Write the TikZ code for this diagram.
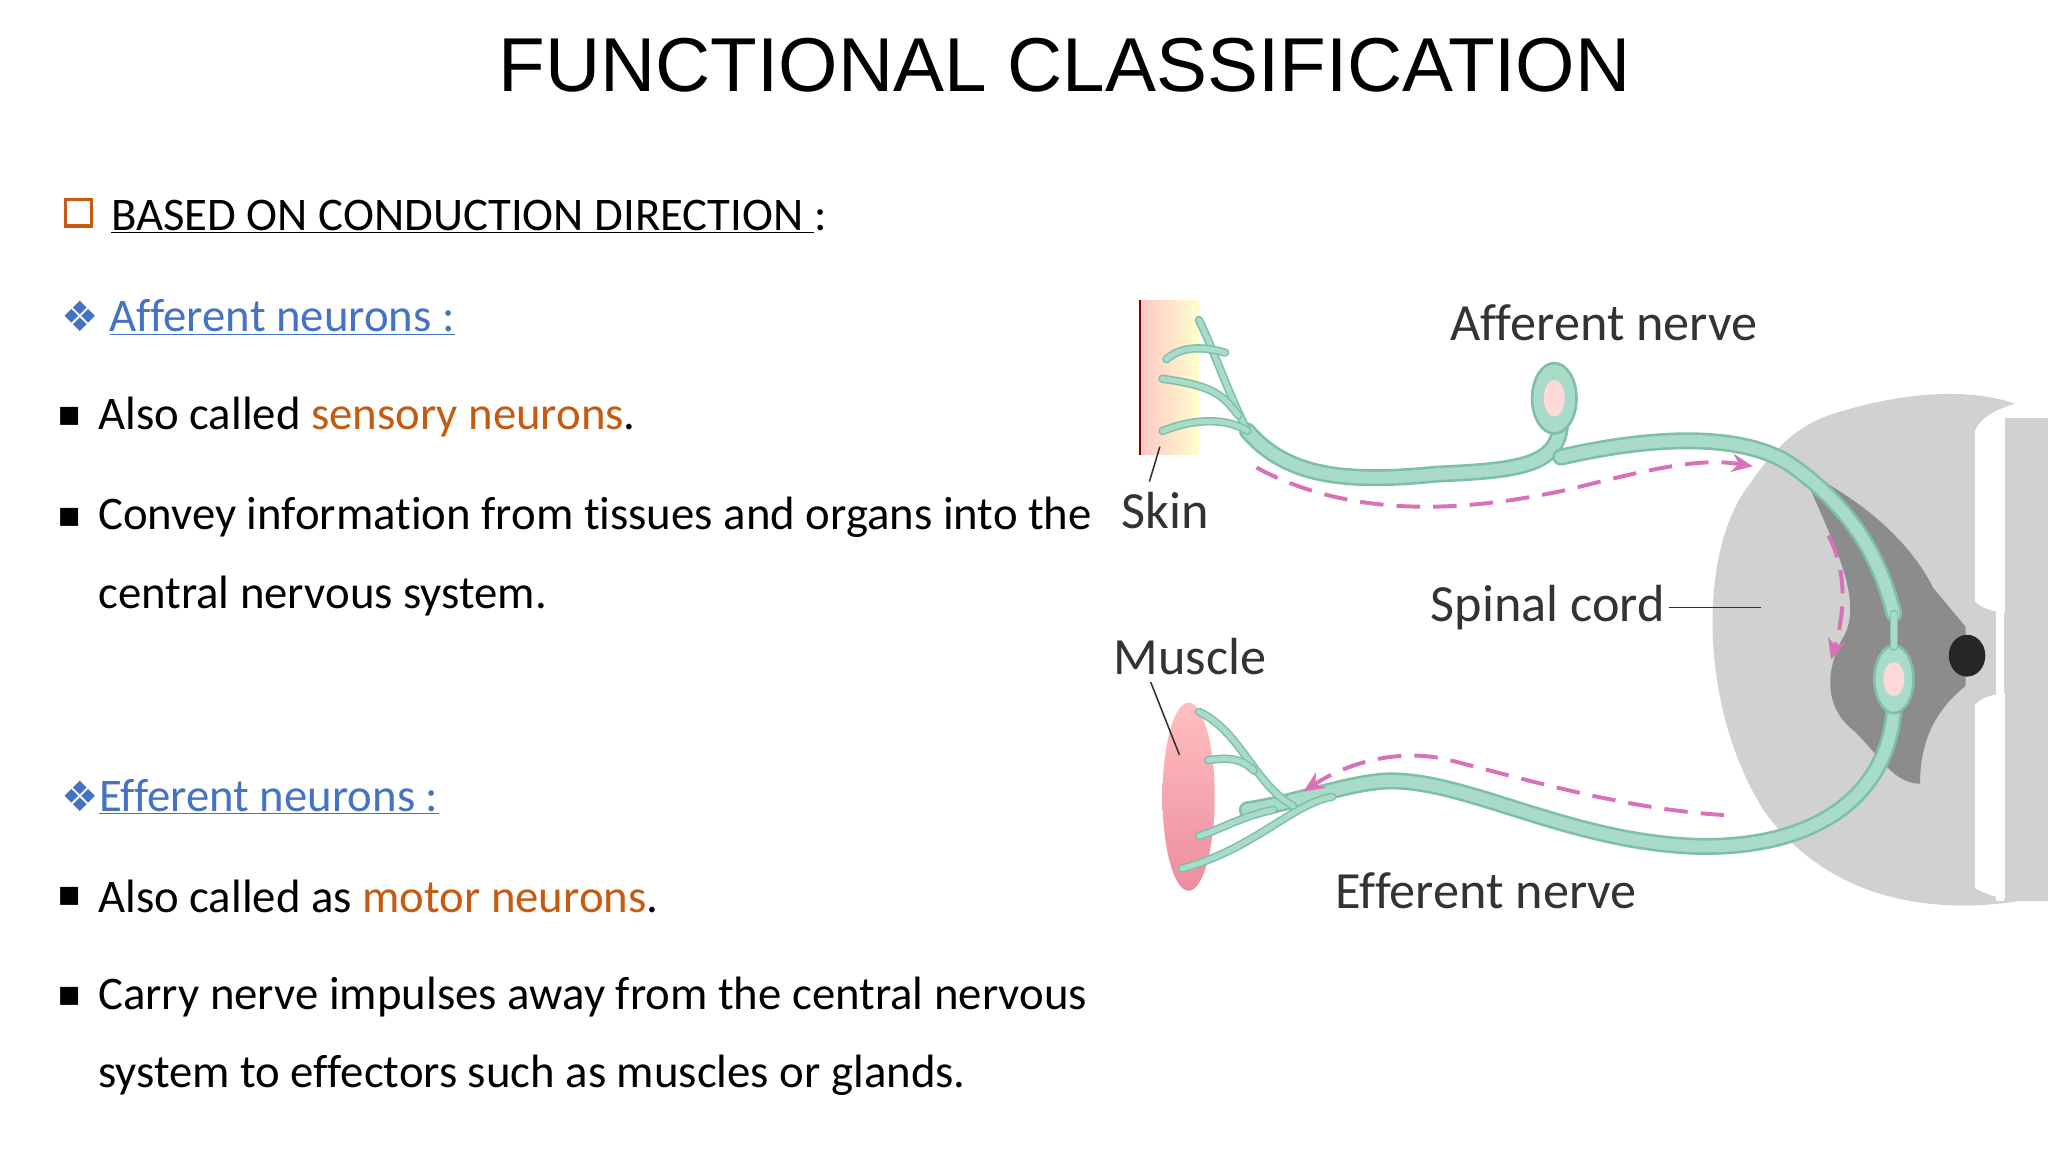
\documentclass[tikz,border=0pt]{standalone}
\usepackage{fontspec}
\setmainfont{Carlito}[Ligatures={NoCommon,NoRare}]
\newfontfamily\titlef{Liberation Sans}
\newfontfamily\symf{DejaVu Sans}
\usetikzlibrary{arrows.meta}
\definecolor{blu}{HTML}{4472C4}
\definecolor{org}{HTML}{C55A11}
\definecolor{nerveL}{HTML}{A8DCC9}
\definecolor{nerveD}{HTML}{7FBFA8}
\definecolor{pk}{HTML}{D970B8}
\begin{document}
\begin{tikzpicture}[x=1pt,y=-1pt,
  body/.style={anchor=west,font=\fontsize{35.8}{40}\selectfont,inner sep=0},
  lbl/.style={font=\fontsize{40}{46}\selectfont,inner sep=0,text=black!80},
  nerve/.style={draw=nerveD,double=nerveL,double distance=9pt,line width=2pt,line cap=round},
  thin/.style={draw=nerveD,double=nerveL,double distance=4pt,line width=1.2pt,line cap=round},
  pkdash/.style={pk,line width=3pt,dash pattern=on 18pt off 10pt,-{Stealth[length=16pt,width=14pt]}},
  sq/.style={anchor=center,font=\symf\fontsize{18}{20}\selectfont,inner sep=0}]
\useasboundingbox (0,0) rectangle (1568,882);
\fill[white] (0,0) rectangle (1568,882);
\node[font=\titlef\fontsize{58.5}{62}\selectfont,inner sep=0] (title) at (815,50) {FUNCTIONAL CLASSIFICATION};
% left text
\node[draw=org,line width=2.5pt,fill=white,minimum size=20pt,inner sep=0] (box) at (60,163) {};
\node[body] (h) at (85,166) {\underline{BASED ON CONDUCTION DIRECTION }:};
\node[body,text=blu] (aff) at (47,243) {{\symf\fontsize{32}{34}\selectfont❖}\ \underline{Afferent neurons :}};
\node[sq] (b1) at (53,319) {■};
\node[body] (t1) at (75,319) {Also called \textcolor{org}{sensory neurons}.};
\node[sq] (b2) at (53,396) {■};
\node[body] (t2) at (75,396) {Convey information from tissues and organs into the};
\node[body] (t3) at (75,456) {central nervous system.};
\node[body,text=blu] (eff) at (47,610) {{\symf\fontsize{32}{34}\selectfont❖}\underline{Efferent neurons :}};
\node[sq] (b3) at (53,686) {■};
\node[body] (t4) at (75,686) {Also called as \textcolor{org}{motor neurons}.};
\node[sq] (b4) at (53,763) {■};
\node[body] (t5) at (75,763) {Carry nerve impulses away from the central nervous};
\node[body] (t6) at (75,823) {system to effectors such as muscles or glands.};
% spinal cord
\fill[black!18] (1400,318) .. controls (1470,295) and (1520,300) .. (1545,310) -- (1545,690) .. controls (1480,700) and (1400,690) .. (1350,620) .. controls (1300,540) and (1300,420) .. (1340,370) .. controls (1360,340) and (1380,325) .. (1400,318) -- cycle;
\fill[black!45] (1380,360) .. controls (1420,380) and (1460,410) .. (1480,450) -- (1505,480) -- (1505,525) .. controls (1480,545) and (1470,570) .. (1470,600) .. controls (1450,600) and (1440,580) .. (1420,560) .. controls (1400,545) and (1395,520) .. (1410,490) .. controls (1430,460) and (1400,410) .. (1380,360) -- cycle;
\fill[white] (1512,330) .. controls (1520,310) and (1560,305) .. (1568,305) -- (1568,690) .. controls (1550,690) and (1530,690) .. (1512,680) -- (1512,540) .. controls (1520,530) and (1540,530) .. (1560,530) -- (1560,470) .. controls (1540,470) and (1520,470) .. (1512,460) -- cycle;
\fill[black!18] (1535,320) rectangle (1568,690);
\fill[white] (1528,318) -- (1528,690) -- (1534,690) -- (1534,318) -- cycle;
\fill[black!85] (1506,502) ellipse (14pt and 16pt);
% skin
\shade[left color=red!22,right color=yellow!20] (873,230) rectangle (918,348);
\draw[red!50!black,line width=1.5pt] (873,230) -- (873,348);
% muscle
\shade[top color=red!25,bottom color=red!35!purple!45] (910,610) ellipse (20pt and 72pt);
% afferent nerve
\draw[nerve] (955,330) .. controls (985,365) and (1030,370) .. (1100,363) .. controls (1170,360) and (1195,355) .. (1195,320);
\draw[nerve] (1195,350) .. controls (1260,335) and (1330,330) .. (1370,355) .. controls (1420,390) and (1440,430) .. (1450,470);
\draw[thin] (955,330) .. controls (940,300) and (930,270) .. (918,245);
\draw[thin] (948,318) .. controls (935,300) and (925,295) .. (890,290);
\draw[thin] (955,330) .. controls (940,320) and (915,320) .. (890,330);
\draw[thin] (938,270) .. controls (920,265) and (905,265) .. (893,275);
\draw[nerveD,fill=nerveL,line width=2pt] (1190,305) ellipse (17pt and 27pt);
\fill[pink!60] (1190,305) ellipse (8pt and 14pt);
% efferent
\draw[nerve] (1450,525) .. controls (1455,600) and (1400,650) .. (1300,648) .. controls (1200,645) and (1120,595) .. (1060,598) .. controls (1030,600) and (990,615) .. (955,620);
\draw[thin] (1020,610) .. controls (990,615) and (960,650) .. (905,665);
\draw[thin] (990,617) .. controls (960,600) and (950,560) .. (918,545);
\draw[thin] (975,620) .. controls (950,625) and (935,635) .. (918,640);
\draw[thin] (960,590) .. controls (950,580) and (940,580) .. (925,582);
\draw[nerveD,fill=nerveL,line width=2pt] (1450,520) ellipse (15pt and 26pt);
\fill[pink!60] (1450,520) ellipse (8pt and 13pt);
\draw[thin] (1450,470) -- (1450,495);
% dashed arrows
\draw[pkdash] (962,358) .. controls (1040,400) and (1130,390) .. (1200,375) .. controls (1260,360) and (1300,350) .. (1342,357);
\draw[pkdash] (1400,410) .. controls (1415,440) and (1412,470) .. (1402,505);
\draw[pkdash] (1320,624) .. controls (1250,620) and (1180,600) .. (1110,582) .. controls (1070,572) and (1030,585) .. (998,606);
% labels
\node[lbl] (an) at (1228,247) {Afferent nerve};
\node[lbl] (skin) at (892,391) {Skin};
\node[lbl] (sc) at (1185,465) {Spinal cord};
\node[lbl] (mus) at (911,503) {Muscle};
\node[lbl] (en) at (1138,682) {Efferent nerve};
\coordinate (scE) at (1348,465);
\coordinate (skE) at (888,342);
\coordinate (muE) at (903,578);
\draw[black!80,line width=1.2pt] (sc.east) ++(3,0) -- (scE);
\draw[black!80,line width=1.2pt] (skin.north) ++(-12,-8) -- (skE);
\draw[black!80,line width=1.2pt] (mus.south) ++(-30,5) -- (muE);
\end{tikzpicture}
\end{document}
